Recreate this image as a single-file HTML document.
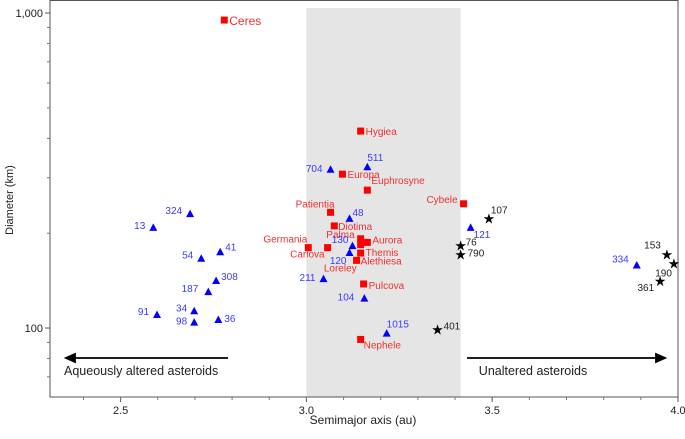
<!DOCTYPE html>
<html><head><meta charset="utf-8"><style>
body{margin:0;background:#fff;font-family:"Liberation Sans",sans-serif;}
svg text{font-family:"Liberation Sans",sans-serif;}
</style></head><body>
<svg id="chart" width="685" height="434" viewBox="0 0 685 434" xmlns="http://www.w3.org/2000/svg"></svg>
<script>
const hydratedNames=["Ceres","Hygiea","Europa","Euphrosyne","Cybele","Patientia","Diotima","Palma","Aurora","Germania","Carlova","Themis","Alethiesa","Loreley","Pulcova","Nephele"];
const hydratedA=[2.779,3.146,3.097,3.164,3.423,3.065,3.075,3.146,3.164,3.005,3.057,3.146,3.135,3.146,3.154,3.146];
const hydratedD=[950,422,308,274,248,233,211,192,187,180,180,173,164,184,138,92];
const triNames=["511","704","48","130","120","211","104","1015","121","334","324","13","54","41","308","187","91","34","98","36"];
const triA=[3.164,3.065,3.116,3.124,3.116,3.046,3.156,3.216,3.442,3.889,2.687,2.588,2.717,2.768,2.757,2.736,2.598,2.698,2.698,2.763];
const triD=[324,318,222,182,173,143,124,96,208,158,230,208,166,174,141,130,110,113,104,106];
const starNames=["107","76","790","401","153","190","361"];
const starA=[3.491,3.415,3.415,3.353,3.970,3.989,3.952];
const starD=[223,183,171,99,171,160,141];
const xTicks=[2.5,3.0,3.5,4.0];
const xTickLabels=["2.5","3.0","3.5","4.0"];

const L=50,R=678,T=0,B=397,X0=2.31,X1=4.0;
const ly0=Math.log10(1100),ly1=Math.log10(60.4);
const xs=a=>L+(a-X0)/(X1-X0)*(R-L);
const ys=d=>T+(ly0-Math.log10(d))/(ly0-ly1)*(B-T);
const svg=document.getElementById('chart');
const NS="http://www.w3.org/2000/svg";
function mk(tag,attrs,txt){const e=document.createElementNS(NS,tag);for(const k in attrs)e.setAttribute(k,attrs[k]);if(txt!==undefined)e.textContent=txt;svg.appendChild(e);return e;}

let g=mk('rect',{x:xs(3.0),y:T+8,width:xs(3.415)-xs(3.0),height:B-T-8,fill:'#e5e5e5'});


let fr=mk('rect',{x:L,y:T+0.5,width:R-L,height:B-T-0.5,fill:'none',stroke:'#555','stroke-width':1});



xTicks.forEach((v,i)=>{
  const t=mk('line',{x1:xs(v),x2:xs(v),y1:B,y2:B+5,stroke:'#555'});
  
  
  const l=mk('text',{x:xs(v),y:B+17,'text-anchor':'middle','font-size':11,fill:'#222'},xTickLabels[i]);
  
  
});
for(let v=2.4;v<4.0;v+=0.1){
  const t=mk('line',{x1:xs(v),x2:xs(v),y1:B,y2:B+3,stroke:'#777'});
  
  
}
[100,1000].forEach(v=>{
  const t=mk('line',{x1:L-5,x2:L,y1:ys(v),y2:ys(v),stroke:'#555'});
  
  
  const l=mk('text',{x:L-7,y:ys(v)+4,'text-anchor':'end','font-size':11,fill:'#222'},v===1000?'1,000':'100');
  
  
});
for(let v=70;v<1000;v+=(v<100?10:100)){
  if(v===100)continue;
  const t=mk('line',{x1:L-3,x2:L,y1:ys(v),y2:ys(v),stroke:'#777'});
  
  
}
let xt=mk('text',{x:363,y:424,'text-anchor':'middle','font-size':12,fill:'#222'},'Semimajor axis (au)');


let yt=mk('text',{x:13,y:200,'text-anchor':'middle','font-size':11,fill:'#222',transform:'rotate(-90 13 200)'},'Diameter (km)');



let a1=mk('path',{d:'M228 358 H66 M66 358 l9 -4 v8 z',stroke:'#000','stroke-width':1.8,fill:'#000'});


let at1=mk('text',{x:64,y:375,'font-size':12.5,fill:'#222'},'Aqueously altered asteroids');


let a2=mk('path',{d:'M467 358 H659 M665 358 l-9 -4 v8 z',stroke:'#000','stroke-width':1.8,fill:'#000'});


let at2=mk('text',{x:533,y:375,'text-anchor':'middle','font-size':12.5,fill:'#222'},'Unaltered asteroids');



const hOff={Ceres:[5,5,'start',12],Hygiea:[5,4,'start'],Europa:[5,4,'start'],Euphrosyne:[4,-6,'start'],Cybele:[-6,-1,'end'],Patientia:[4,-5,'end'],Diotima:[4,4,'start'],Palma:[-6,-1,'end'],Aurora:[5,1,'start'],Germania:[-1,-5,'end'],Carlova:[-3,10,'end'],Themis:[5,3,'start'],Alethiesa:[4,4,'start'],Loreley:[-4,27,'end'],Pulcova:[5,5,'start'],Nephele:[3,9,'start']};
hydratedNames.forEach((n,i)=>{
  const x=xs(hydratedA[i]),y=ys(hydratedD[i]);
  const s=mk('rect',{x:x-3.5,y:y-3.5,width:7,height:7,fill:'#ff0000'});
  
  
  const o=hOff[n]||[5,4,'start'];
  const l=mk('text',{x:x+o[0],y:y+o[1],'text-anchor':o[2],'font-size':o[3]||10,fill:'#f03030'},n);
  
  
});
const tOff={"511":[0,-6,'start'],"704":[-8,2,'end'],"48":[3,-3,'start'],"130":[-4,-3,'end'],"120":[-3,11,'end'],"211":[-8,2,'end'],"104":[-10,2,'end'],"1015":[0,-6,'start'],"121":[3,10,'start'],"334":[-8,-3,'end'],"324":[-8,0,'end'],"13":[-8,1,'end'],"54":[-8,0,'end'],"41":[5,-2,'start'],"308":[5,-1,'start'],"187":[-10,0,'end'],"91":[-8,0,'end'],"34":[-7,0,'end'],"98":[-7,2,'end'],"36":[6,2,'start']};
triNames.forEach((n,i)=>{
  const x=xs(triA[i]),y=ys(triD[i]);
  const p=mk('path',{d:`M${x} ${y-4.5} L${x+4} ${y+3} L${x-4} ${y+3} Z`,fill:'#0000ff'});
  
  
  const o=tOff[n];
  const l=mk('text',{x:x+o[0],y:y+o[1],'text-anchor':o[2],'font-size':10,fill:'#3a3aff'},n);
  
  
});
const sOff={"107":[2,-5,'start'],"76":[5,0,'start'],"790":[7,2,'start'],"401":[6,0,'start'],"153":[-6,-6,'end'],"190":[-2,13,'end'],"361":[-6,10,'end']};
starNames.forEach((n,i)=>{
  const x=xs(starA[i]),y=ys(starD[i]);
  const s=mk('text',{x:x,y:y+5,'text-anchor':'middle','font-size':14,fill:'#000',style:'font-family:"DejaVu Sans",sans-serif'},'★');
  
  
  const o=sOff[n];
  const l=mk('text',{x:x+o[0],y:y+o[1],'text-anchor':o[2],'font-size':10,fill:'#222'},n);
  
  
});
</script>
</body></html>
